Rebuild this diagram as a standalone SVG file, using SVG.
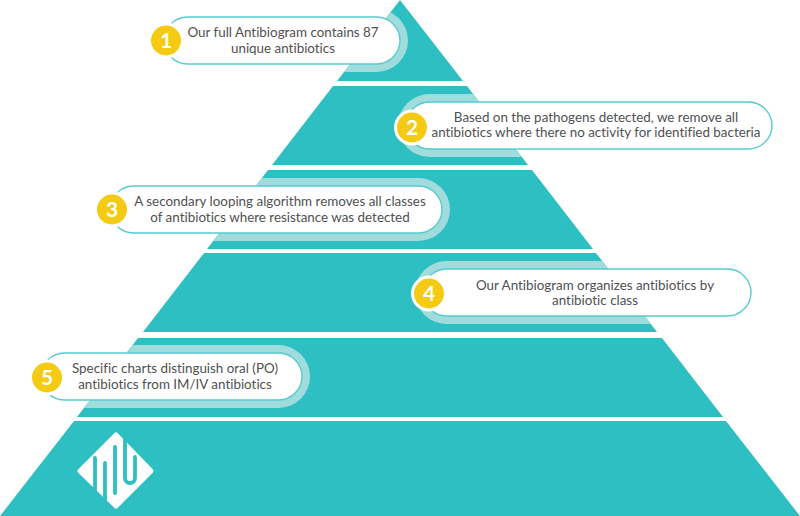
<svg xmlns="http://www.w3.org/2000/svg" width="800" height="516" viewBox="0 0 800 516">
<style>
.band{fill:#2ebfc2}
.halo{fill:#a1dcdd}
.pill{fill:#fff;stroke:#56cbd0;stroke-width:1.4}
.ring{fill:#fff}
.dot{fill:#f4ca12}
.num{font:700 21px Lato,"Liberation Sans",sans-serif;fill:#fff;text-anchor:middle}
.t{font:13.4px Lato,"Liberation Sans",sans-serif;fill:#505052;text-anchor:middle;font-variant-ligatures:none}
.slit{fill:none;stroke:#2ebfc2;stroke-width:3.8;stroke-linecap:round}
</style>
<defs>
<clipPath id="b1"><polygon points="400,0 463,81 337,81"/></clipPath>
<clipPath id="b2"><polygon points="467,86 528,165 272,165 333,86"/></clipPath>
<clipPath id="b3"><polygon points="532,170 593,249 207,249 268,170"/></clipPath>
<clipPath id="b4"><polygon points="596,253 657,332 143,332 204,253"/></clipPath>
<clipPath id="b5"><polygon points="662,338 723,417 77,417 138,338"/></clipPath>
</defs>
<g id="pyramid">
<polygon class="band" points="400,0 463,81 337,81"/>
<polygon class="band" points="467,86 528,165 272,165 333,86"/>
<polygon class="band" points="532,170 593,249 207,249 268,170"/>
<polygon class="band" points="596,253 657,332 143,332 204,253"/>
<polygon class="band" points="662,338 723,417 77,417 138,338"/>
<polygon class="band" points="726,421 800,516 0,516 74,421"/>
</g>
<g id="logo">
<polygon points="116,435 151,471 116,506 80,471" fill="#fff" stroke="#fff" stroke-width="5" stroke-linejoin="round"/>
<path class="slit" d="M95,458V496M105,463V506M115,447V493"/>
<path class="slit" d="M125,438V478a5,5 0 0 0 10,0V457"/>
</g>
<g id="node1">
<rect class="halo" x="120" y="9" width="288" height="63" rx="31.5" clip-path="url(#b1)"/>
<rect class="pill" x="164" y="17" width="236" height="47" rx="23.5"/>
<circle class="ring" cx="166" cy="40.500" r="18"/>
<circle class="dot" cx="166" cy="40.500" r="15"/>
<text class="num" x="166" y="48">1</text>
<text class="t" x="283" y="37">Our full Antibiogram contains 87</text>
<text class="t" x="283" y="53">unique antibiotics</text>
</g>
<g id="node2">
<rect class="halo" x="398" y="94" width="300" height="63" rx="31.5" clip-path="url(#b2)"/>
<rect class="pill" x="406" y="102" width="366" height="47" rx="23.5"/>
<circle class="ring" cx="412" cy="127.500" r="18"/>
<circle class="dot" cx="412" cy="127.500" r="15"/>
<text class="num" x="412" y="135">2</text>
<text class="t" x="596" y="122">Based on the pathogens detected, we remove all</text>
<text class="t" x="596" y="137">antibiotics where there no activity for identified bacteria</text>
</g>
<g id="node3">
<rect class="halo" x="150" y="178" width="300" height="63" rx="31.5" clip-path="url(#b3)"/>
<rect class="pill" x="110" y="186" width="332" height="47" rx="23.5"/>
<circle class="ring" cx="112" cy="209.500" r="18"/>
<circle class="dot" cx="112" cy="209.500" r="15"/>
<text class="num" x="112" y="217">3</text>
<text class="t" x="280" y="206">A secondary looping algorithm removes all classes</text>
<text class="t" x="280" y="222">of antibiotics where resistance was detected</text>
</g>
<g id="node4">
<rect class="halo" x="415" y="261" width="300" height="63" rx="31.5" clip-path="url(#b4)"/>
<rect class="pill" x="423" y="269" width="328" height="47" rx="23.5"/>
<circle class="ring" cx="429" cy="293.500" r="18"/>
<circle class="dot" cx="429" cy="293.500" r="15"/>
<text class="num" x="429" y="301">4</text>
<text class="t" x="595" y="290">Our Antibiogram organizes antibiotics by</text>
<text class="t" x="595" y="305">antibiotic class</text>
</g>
<g id="node5">
<rect class="halo" x="30" y="345" width="280" height="63" rx="31.5" clip-path="url(#b5)"/>
<rect class="pill" x="41" y="353" width="261" height="47" rx="23.5"/>
<circle class="ring" cx="47" cy="377.500" r="18"/>
<circle class="dot" cx="47" cy="377.500" r="15"/>
<text class="num" x="47" y="385">5</text>
<text class="t" x="175" y="373">Specific charts distinguish oral (PO)</text>
<text class="t" x="175" y="389">antibiotics from IM/IV antibiotics</text>
</g>
<g id="connectors"></g>
</svg>
